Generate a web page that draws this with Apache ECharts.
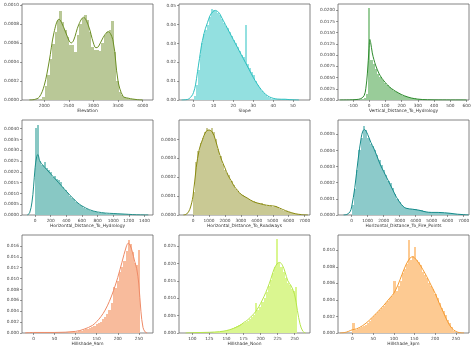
<!DOCTYPE html>
<html><head><meta charset="utf-8">
<script src="https://cdn.jsdelivr.net/npm/echarts@6/dist/echarts.min.js"></script>
<style>html,body{margin:0;padding:0;background:#fff}#c{width:474px;height:348px}</style>
</head><body><div id="c"></div>
<script>
// ---------- DATA ----------
const titles = ["Elevation","Slope","Vertical_Distance_To_Hydrology","Horizontal_Distance_To_Hydrology","Horizontal_Distance_To_Roadways","Horizontal_Distance_To_Fire_Points","Hillshade_9am","Hillshade_Noon","Hillshade_3pm"];

// histogram: first bin start and bin width, then densities
const elevationBin = [1860, 50];
const elevationHist = [0.05e-4,0.1e-4,0.3e-4,1.5e-4,2.6e-4,4.3e-4,5.9e-4,7.2e-4,8.4e-4,9.4e-4,8.2e-4,7.4e-4,6.6e-4,5.8e-4,5.8e-4,5.0e-4,6.8e-4,8.0e-4,8.6e-4,8.9e-4,8.4e-4,7.2e-4,5.6e-4,5.3e-4,5.3e-4,5.2e-4,6.0e-4,6.8e-4,7.2e-4,7.4e-4,8.3e-4,5.0e-4,2.0e-4,0.8e-4,0.5e-4,0.3e-4,0.2e-4,0.15e-4,0.15e-4,0.1e-4];
const elevationKde = [[1700,0],[1800,0.000005],[1900,0.00003],[2000,0.00015],[2100,0.0004],[2200,0.00071],[2300,0.00085],[2400,0.00076],[2500,0.00063],[2550,0.0006],[2600,0.00063],[2700,0.00079],[2800,0.00087],[2900,0.00078],[3000,0.0006],[3050,0.00055],[3100,0.00056],[3200,0.00066],[3300,0.00072],[3400,0.00062],[3500,0.0002],[3600,0.00004],[3700,0.00002],[3800,0.00001],[3900,0.000003],[4000,0]];

const slopeBin = [0, 1];
const slopeHist = [2e-3,8e-3,16e-3,24e-3,30e-3,35e-3,37e-3,40e-3,44e-3,48e-3,47.5e-3,47e-3,46e-3,45e-3,43e-3,41e-3,39e-3,38e-3,36e-3,34e-3,32e-3,30e-3,28e-3,26e-3,24e-3,23e-3,40e-3,19e-3,17e-3,15e-3,13e-3,10e-3,8e-3,6.5e-3,5e-3,3.5e-3,2.5e-3,1.5e-3,1e-3,0.6e-3,0.4e-3,0.3e-3,0.2e-3,0.2e-3,0.3e-3,0.5e-3,0.4e-3,0.2e-3,0.1e-3,0.1e-3,0.05e-3,0.05e-3,0.02e-3];
const slopeKde = [[-6,0],[-3,0.0003],[-1,0.002],[0,0.004],[1,0.008],[2,0.015],[3,0.022],[4,0.029],[5,0.034],[6,0.038],[7,0.041],[8,0.044],[9,0.046],[10,0.047],[11,0.0475],[12,0.047],[13,0.046],[14,0.044],[16,0.04],[18,0.036],[20,0.032],[22,0.028],[24,0.024],[26,0.02],[28,0.016],[30,0.012],[32,0.0085],[34,0.0055],[36,0.0032],[38,0.0017],[40,0.0009],[42,0.0005],[44,0.0004],[46,0.0004],[48,0.0002],[50,0.0001],[53,0]];

const vertBin = [-146, 14];
const vertHist = [0.01e-3,0.01e-3,0.02e-3,0.02e-3,0.03e-3,0.05e-3,0.08e-3,0.15e-3,0.4e-3,1.3e-3,20.5e-3,9.0e-3,8.0e-3,6.8e-3,5.9e-3,5.1e-3,4.4e-3,3.8e-3,3.3e-3,2.9e-3,2.5e-3,2.1e-3,1.8e-3,1.5e-3,1.25e-3,1.0e-3,0.82e-3,0.66e-3,0.52e-3,0.42e-3,0.34e-3,0.27e-3,0.21e-3,0.16e-3,0.12e-3,0.09e-3,0.07e-3,0.05e-3,0.04e-3,0.03e-3,0.025e-3,0.02e-3,0.015e-3,0.012e-3,0.01e-3,0.008e-3,0.006e-3,0.005e-3,0.004e-3,0.003e-3];
const vertKde = [[-180,0],[-120,0.00003],[-80,0.0001],[-50,0.0003],[-30,0.001],[-20,0.0025],[-10,0.006],[0,0.0115],[5,0.0135],[10,0.0128],[20,0.0105],[30,0.009],[40,0.0078],[60,0.006],[80,0.0048],[100,0.0039],[120,0.0031],[140,0.0025],[160,0.002],[180,0.0016],[200,0.0012],[220,0.0009],[240,0.00065],[260,0.00045],[280,0.0003],[300,0.0002],[330,0.0001],[360,0.00006],[400,0.00003],[450,0.00002],[500,0.00001],[560,0.000005],[600,0]];

const hydroBin = [0, 26.86];
const hydroHist = [4.05e-3,4.15e-3,2.5e-3,2.3e-3,2.45e-3,2.2e-3,2.1e-3,2.0e-3,1.75e-3,1.8e-3,1.65e-3,1.6e-3,1.55e-3,1.3e-3,1.15e-3,1.0e-3,0.9e-3,0.8e-3,0.72e-3,0.62e-3,0.55e-3,0.47e-3,0.4e-3,0.33e-3,0.28e-3,0.23e-3,0.2e-3,0.17e-3,0.14e-3,0.12e-3,0.1e-3,0.09e-3,0.08e-3,0.07e-3,0.06e-3,0.06e-3,0.05e-3,0.05e-3,0.04e-3,0.04e-3,0.03e-3,0.03e-3,0.03e-3,0.02e-3,0.02e-3,0.015e-3,0.01e-3,0.008e-3,0.005e-3,0.003e-3];
const hydroKde = [[-100,0],[-70,0.0001],[-40,0.0006],[-20,0.0013],[0,0.0022],[20,0.0027],[35,0.0028],[60,0.0025],[100,0.0023],[150,0.0021],[200,0.0019],[250,0.0017],[300,0.0015],[350,0.0013],[400,0.0011],[450,0.0009],[500,0.00072],[550,0.00055],[600,0.00042],[650,0.00032],[700,0.00024],[750,0.00018],[800,0.00014],[900,0.00009],[1000,0.00007],[1100,0.00005],[1200,0.00003],[1300,0.00001],[1400,0.000003],[1450,0]];

const roadBin = [0, 137.8];
const roadHist = [12e-5,28e-5,34e-5,38e-5,41e-5,44e-5,46e-5,45e-5,46e-5,44e-5,40e-5,35e-5,31e-5,27e-5,24e-5,22.5e-5,21e-5,18e-5,16e-5,14e-5,12.5e-5,11.5e-5,10.5e-5,9.5e-5,9e-5,8.5e-5,7.8e-5,7.3e-5,6.8e-5,6.3e-5,6e-5,6.2e-5,5.5e-5,5e-5,4.8e-5,4.6e-5,4.5e-5,5e-5,4e-5,3.3e-5,2.8e-5,2.3e-5,1.9e-5,1.5e-5,1.1e-5,0.8e-5,0.5e-5,0.3e-5,0.2e-5,0.1e-5];
const roadKde = [[-600,0],[-400,0.000005],[-200,0.00003],[0,0.0001],[200,0.00025],[400,0.00035],[600,0.0004],[800,0.00044],[1000,0.00045],[1200,0.00044],[1400,0.0004],[1600,0.00034],[1800,0.00029],[2000,0.00025],[2200,0.00021],[2400,0.00018],[2600,0.00015],[2800,0.00013],[3000,0.00011],[3400,0.00009],[3800,0.00007],[4200,0.00006],[4600,0.000052],[5000,0.000048],[5200,0.000045],[5600,0.00003],[6000,0.000017],[6400,0.000007],[6800,0.000002],[7200,0]];

const fireBin = [0, 139.9];
const fireHist = [6e-5,16e-5,28e-5,40e-5,48e-5,55e-5,53e-5,48e-5,44e-5,43e-5,40e-5,37e-5,34e-5,31e-5,28e-5,25e-5,21e-5,20e-5,17e-5,13e-5,10e-5,8e-5,6e-5,5e-5,4.5e-5,4e-5,4e-5,3.8e-5,3.5e-5,3.2e-5,3e-5,2.8e-5,2.5e-5,2e-5,1.8e-5,1.6e-5,1.5e-5,1.5e-5,1.5e-5,1.8e-5,1.5e-5,1.3e-5,1.2e-5,1.2e-5,1.0e-5,0.8e-5,0.5e-5,0.3e-5,0.2e-5,0.1e-5];
const fireKde = [[-500,0],[-300,0.000003],[-100,0.00002],[0,0.00005],[200,0.00017],[400,0.00034],[600,0.00048],[700,0.00052],[800,0.00053],[1000,0.0005],[1200,0.00045],[1400,0.00041],[1600,0.00036],[1800,0.00031],[2000,0.00027],[2200,0.00023],[2400,0.00019],[2600,0.00015],[2800,0.00011],[3000,0.00008],[3200,0.000055],[3400,0.000042],[3800,0.000036],[4200,0.00003],[4600,0.00002],[5000,0.000016],[5400,0.000016],[5800,0.000014],[6200,0.00001],[6600,0.000005],[7000,0.000002],[7300,0]];

const am9Bin = [0, 5.08];
const am9Hist = [0.5e-4,0.2e-4,0.2e-4,0.2e-4,0.2e-4,0.3e-4,0.3e-4,0.3e-4,0.4e-4,0.4e-4,0.5e-4,0.5e-4,0.6e-4,0.7e-4,0.8e-4,0.9e-4,1.0e-4,1.2e-4,1.4e-4,1.7e-4,2.1e-4,3e-4,4e-4,5e-4,6.5e-4,8e-4,9.5e-4,11e-4,13e-4,16e-4,19e-4,21e-4,25e-4,29e-4,35e-4,42e-4,55e-4,84e-4,82e-4,95e-4,112e-4,122e-4,132e-4,150e-4,170e-4,163e-4,148e-4,128e-4,125e-4,152e-4];
const am9Kde = [[-20,0],[0,0.0001],[50,0.0001],[100,0.0003],[120,0.0007],[140,0.0014],[150,0.0021],[160,0.003],[170,0.0042],[180,0.0058],[190,0.0078],[200,0.0102],[210,0.013],[220,0.0158],[225,0.0165],[230,0.016],[235,0.0148],[240,0.0132],[245,0.0118],[250,0.009],[255,0.004],[260,0.001],[265,0.0002],[270,0]];

const noonBin = [99, 3.1];
const noonHist = [1e-4,0.5e-4,0.5e-4,0.5e-4,0.5e-4,0.6e-4,0.7e-4,0.8e-4,1e-4,1.2e-4,1.5e-4,2e-4,2.5e-4,3.5e-4,4.5e-4,6e-4,8e-4,10e-4,12e-4,14e-4,17e-4,20e-4,23e-4,26e-4,28e-4,31e-4,34e-4,39e-4,45e-4,52e-4,86e-4,66e-4,75e-4,88e-4,102e-4,118e-4,135e-4,152e-4,172e-4,190e-4,270e-4,200e-4,190e-4,175e-4,158e-4,145e-4,138e-4,128e-4,120e-4,133e-4];
const noonKde = [[90,0],[100,0.0001],[125,0.0002],[140,0.0004],[150,0.0007],[160,0.0013],[170,0.0022],[175,0.003],[180,0.0036],[190,0.0055],[195,0.0068],[200,0.0085],[205,0.0105],[210,0.0128],[215,0.0155],[220,0.0185],[225,0.0201],[228,0.0203],[232,0.0195],[236,0.0175],[240,0.015],[245,0.0135],[250,0.011],[254,0.0065],[258,0.0025],[262,0.0005],[266,0]];

const pm3Bin = [0, 4.96];
const pm3Hist = [12e-4,4e-4,5e-4,6e-4,7e-4,8e-4,10e-4,12e-4,15e-4,18e-4,20e-4,23e-4,25e-4,28e-4,30e-4,33e-4,36e-4,39e-4,42e-4,45e-4,63e-4,51e-4,57e-4,63e-4,73e-4,77e-4,83e-4,112e-4,88e-4,93e-4,104e-4,88e-4,86e-4,82e-4,74e-4,70e-4,66e-4,60e-4,57e-4,53e-4,47e-4,42e-4,36e-4,30e-4,27e-4,22e-4,16e-4,12e-4,7e-4,3e-4];
const pm3Kde = [[-30,0],[-15,0.0001],[-5,0.0003],[0,0.0004],[10,0.0005],[25,0.0009],[40,0.0015],[50,0.002],[60,0.0025],[75,0.0033],[90,0.0042],[100,0.0048],[110,0.0058],[120,0.0071],[130,0.0083],[140,0.0091],[145,0.0092],[150,0.0091],[160,0.0085],[170,0.0077],[180,0.0068],[190,0.0058],[200,0.0048],[210,0.0036],[220,0.0025],[230,0.0014],[240,0.0006],[250,0.0002],[260,0.00003],[270,0]];

// tick labels
const xTicks = [[2000,2500,3000,3500,4000],[0,10,20,30,40,50],[-100,0,100,200,300,400,500,600],[0,200,400,600,800,1000,1200,1400],[0,1000,2000,3000,4000,5000,6000,7000],[0,1000,2000,3000,4000,5000,6000,7000],[0,50,100,150,200,250],[100,125,150,175,200,225,250],[0,50,100,150,200,250]];
const yTicks = [[0,0.0002,0.0004,0.0006,0.0008,0.0010],[0,0.01,0.02,0.03,0.04,0.05],[0,0.0025,0.005,0.0075,0.01,0.0125,0.015,0.0175,0.02],[0,0.0005,0.001,0.0015,0.002,0.0025,0.003,0.0035,0.004],[0,0.0001,0.0002,0.0003,0.0004],[0,0.0001,0.0002,0.0003,0.0004,0.0005],[0,0.002,0.004,0.006,0.008,0.01,0.012,0.014,0.016],[0,0.005,0.01,0.015,0.02,0.025],[0,0.002,0.004,0.006,0.008,0.01]];
const yDecimals = [4,2,4,4,4,4,3,3,3];

// ---------- STYLE / LAYOUT ----------
const bins = [elevationBin,slopeBin,vertBin,hydroBin,roadBin,fireBin,am9Bin,noonBin,pm3Bin];
const hists = [elevationHist,slopeHist,vertHist,hydroHist,roadHist,fireHist,am9Hist,noonHist,pm3Hist];
const kdes = [elevationKde,slopeKde,vertKde,hydroKde,roadKde,fireKde,am9Kde,noonKde,pm3Kde];
const xRange = [[1550,4210],[-7.3,58.5],[-191,615],[-168,1510],[-877,7333],[-850,7330],[-27.4,283.7],[80.3,272.5],[-35,282]];
const yMax = [0.00101,0.0509,0.0214,0.0044,0.000503,0.000589,0.018,0.0282,0.01185];
const lineColors = ['#6b8e23','#2bbfbf','#2e8b2e','#1f8f8a','#8a8a10','#138a8a','#ee8a66','#b6e64a','#f59a30'];
const barColors = ['#b9c897','#93e0e0','#99cc99','#88c8c4','#c9c994','#8ccaca','#f8bb9c','#daf690','#fdca92'];
const cols = [[22,131],[179,131],[338,131]];
const rows = [[4,96],[120,95],[235,98]];
const FONT = 'DejaVu Sans';

const grid=[], xAxis=[], yAxis=[], series=[];
for (let i=0;i<9;i++){
  const c = cols[i%3], r = rows[Math.floor(i/3)];
  grid.push({left:c[0], top:r[0], width:c[1], height:r[1], show:true, borderColor:'#666', borderWidth:0.8, backgroundColor:'#fff'});
  xAxis.push({type:'value', gridIndex:i, min:xRange[i][0], max:xRange[i][1],
    name:titles[i], nameLocation:'middle', nameGap:8, nameTextStyle:{fontFamily:FONT,fontSize:4.4,color:'#333'},
    axisLine:{show:false, onZero:false}, splitLine:{show:false},
    axisTick:{show:true, length:2, lineStyle:{color:'#555',width:0.6}, customValues:xTicks[i]},
    axisLabel:{fontFamily:FONT,fontSize:4.3,color:'#444',margin:3.5, customValues:xTicks[i], formatter:v=>String(v)}});
  yAxis.push({type:'value', gridIndex:i, min:0, max:yMax[i],
    axisLine:{show:false, onZero:false}, splitLine:{show:false},
    axisTick:{show:true, length:2, lineStyle:{color:'#555',width:0.6}, customValues:yTicks[i]},
    axisLabel:{show:false}});
  const b = bins[i];
  const data = hists[i].map((h,k)=>[b[0]+k*b[1], b[0]+(k+1)*b[1], h]);
  const fill = barColors[i];
  series.push({type:'custom', xAxisIndex:i, yAxisIndex:i, data, encode:{x:[0,1], y:2},
    renderItem:(params, api)=>{
      const p0 = api.coord([api.value(0), api.value(2)]);
      const p1 = api.coord([api.value(1), 0]);
      const x0 = Math.round(p0[0]), x1 = Math.round(p1[0]);
      const y0 = Math.round(p0[1]), y1 = Math.round(p1[1]);
      return {type:'rect', shape:{x:x0, y:y0, width:Math.max(x1-x0,1), height:y1-y0}, style:{fill:fill}};
    }, z:2, clip:true});
  series.push({type:'line', xAxisIndex:i, yAxisIndex:i, data:kdes[i], smooth:0.35, showSymbol:false, symbol:'none',
    lineStyle:{color:lineColors[i], width:1}, z:3, clip:true});
}
const chart = echarts.init(document.getElementById('c'), null, {renderer:'canvas'});
chart.setOption({animation:false, backgroundColor:'#fff', grid, xAxis, yAxis, series});

// y tick labels placed through the chart's own scales, on a top layer
const yLabelEls = [];
for (let i=0;i<9;i++){
  const d = yDecimals[i];
  yTicks[i].forEach((v,k)=>{
    const p = chart.convertToPixel({xAxisIndex:i, yAxisIndex:i}, [xRange[i][0], v]);
    yLabelEls.push({type:'text', id:'yl_'+i+'_'+k, x:p[0]-3, y:p[1], z:100, zlevel:1, silent:true,
      style:{text:v.toFixed(d), fontFamily:FONT, fontSize:4.3, fill:'#444', align:'right', verticalAlign:'middle'}});
  });
}
chart.setOption({graphic:{elements:yLabelEls}});
</script></body></html>
